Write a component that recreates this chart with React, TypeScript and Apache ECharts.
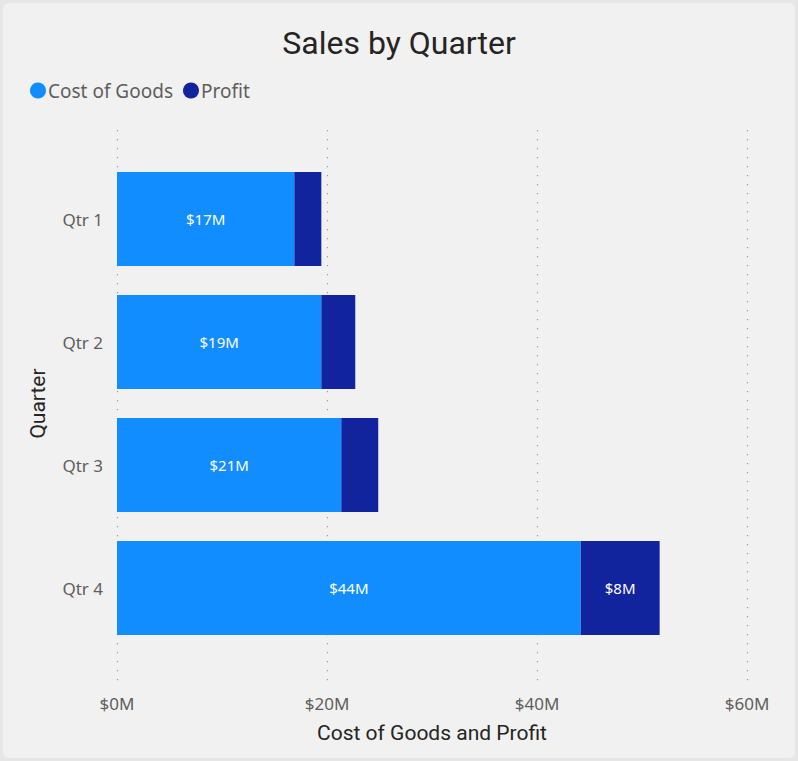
import React, { useEffect, useRef } from "react";
import * as echarts from "echarts";

const quarters = ["Qtr 1", "Qtr 2", "Qtr 3", "Qtr 4"];
const costOfGoods = [16.89, 19.46, 21.36, 44.16];
const profit = [2.57, 3.23, 3.52, 7.52];
const xTicks = { min: 0, max: 60, interval: 20 };

const W = 798;
const H = 761;

export default function App() {
  const ref = useRef<HTMLDivElement>(null);
  useEffect(() => {
    if (!ref.current) return;
    const chart = echarts.init(ref.current, undefined, { renderer: "svg" });
    const labelFont = "'Noto Sans', 'Open Sans', sans-serif";
    const titleFont = "Roboto, 'Noto Sans', sans-serif";
    const fmt = (v: number) => "$" + Math.round(v) + "M";
    chart.setOption({
      animation: false,
      backgroundColor: "#e6e6e6",
      graphic: [
        {
          type: "rect",
          z: -10,
          silent: true,
          shape: { x: 3, y: 3, width: W - 6, height: H - 6, r: 6 },
          style: { fill: "#f1f1f1" },
        },
      ],
      title: {
        text: "Sales by Quarter",
        left: "center",
        top: 22,
        textStyle: {
          fontFamily: titleFont,
          fontSize: 32,
          fontWeight: "normal",
          color: "#252423",
        },
      },
      legend: {
        left: 25,
        top: 76,
        icon: "circle",
        itemWidth: 16,
        itemHeight: 16,
        itemGap: 10,
        textStyle: {
          fontFamily: labelFont,
          fontSize: 19,
          color: "#605E5C",
          padding: [0, 0, 0, -3],
        },
        data: ["Cost of Goods", "Profit"],
      },
      grid: [
        { left: 117, right: 51, top: 157.5, bottom: H - 649.5 },
        { left: 117, right: 51, top: 130, bottom: H - 687 },
      ],
      xAxis: [
        {
          type: "value",
          gridIndex: 0,
          min: xTicks.min,
          max: xTicks.max,
          interval: xTicks.interval,
          show: false,
          splitLine: { show: false },
        },
        {
          type: "value",
          gridIndex: 1,
          min: xTicks.min,
          max: xTicks.max,
          interval: xTicks.interval,
          axisLine: { show: false },
          axisTick: { show: false },
          axisLabel: {
            formatter: (v: number) => "$" + v + "M",
            fontFamily: labelFont,
            fontSize: 17,
            color: "#605E5C",
            margin: 8,
          },
          splitLine: {
            show: true,
            lineStyle: { color: "#9a9a9a", type: [1.2, 7.8], width: 1.2 },
          },
          name: "Cost of Goods and Profit",
          nameLocation: "middle",
          nameGap: 35,
          nameTextStyle: {
            fontFamily: titleFont,
            fontSize: 21,
            color: "#252423",
          },
        },
      ],
      yAxis: [
        {
          type: "category",
          gridIndex: 0,
          data: quarters,
          inverse: true,
          axisLine: { show: false },
          axisTick: { show: false },
          axisLabel: {
            fontFamily: labelFont,
            fontSize: 17,
            color: "#605E5C",
            margin: 14,
          },
          name: "Quarter",
          nameLocation: "middle",
          nameGap: 69,
          nameTextStyle: {
            fontFamily: titleFont,
            fontSize: 21,
            color: "#252423",
          },
        },
        {
          type: "value",
          gridIndex: 1,
          show: false,
          splitLine: { show: false },
        },
      ],
      series: [
        {
          name: "Cost of Goods",
          type: "bar",
          stack: "total",
          xAxisIndex: 0,
          yAxisIndex: 0,
          data: costOfGoods,
          barCategoryGap: "23.6%",
          itemStyle: { color: "#118DFF" },
          label: {
            show: true,
            position: "inside",
            formatter: (p: any) => fmt(p.value),
            color: "#ffffff",
            fontFamily: labelFont,
            fontSize: 15,
          },
        },
        {
          name: "Profit",
          type: "bar",
          stack: "total",
          xAxisIndex: 0,
          yAxisIndex: 0,
          data: profit,
          barCategoryGap: "23.6%",
          itemStyle: { color: "#12239E" },
          label: {
            show: true,
            position: "inside",
            formatter: (p: any) => (p.value >= 5 ? fmt(p.value) : ""),
            color: "#ffffff",
            fontFamily: labelFont,
            fontSize: 15,
          },
        },
      ],
    });
    return () => chart.dispose();
  }, []);
  return (
    <div
      ref={ref}
      style={{ position: "fixed", left: 0, top: 0, width: W, height: H }}
    />
  );
}
